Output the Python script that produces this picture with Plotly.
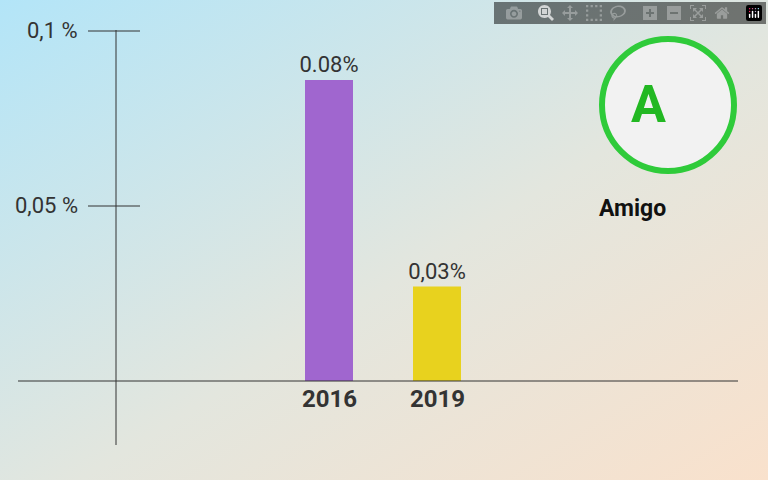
import plotly.graph_objects as go

years = ["2016", "2019"]
shares = [0.086, 0.027]
share_labels = ["0.08%", "0,03%"]
bar_colors = ["#A066CF", "#E8D21E"]
y_ticks = [0.05, 0.1]
y_tick_labels = ["0,05 %", "0,1 %"]

W, H = 768, 480
px_unit = 108.0
x0_px = 329.0
xr = [-x0_px / px_unit, (W - x0_px) / px_unit]
per_px = 0.05 / 175.0
yr = [-(H - 381) * per_px, 381 * per_px]

def px(p):
    return p / W

def pyp(p):
    return 1 - p / H

bg = ("data:image/svg+xml;utf8,<svg xmlns='http://www.w3.org/2000/svg' width='768' height='480'>"
      "<defs><linearGradient id='g' x1='0' y1='0' x2='1' y2='1'>"
      "<stop offset='0' stop-color='%23B3E5F8'/><stop offset='0.55' stop-color='%23E3E6DE'/>"
      "<stop offset='1' stop-color='%23F9E1CC'/></linearGradient></defs>"
      "<rect width='768' height='480' fill='url(%23g)'/></svg>")

fig = go.Figure(go.Bar(
    x=list(range(len(years))), y=shares, width=48 / px_unit,
    marker=dict(color=bar_colors, line_width=0),
    text=share_labels, textposition="outside", cliponaxis=False, constraintext="none",
    textfont=dict(family="Roboto", size=22, color="#333333"),
))

shapes = [
    dict(type="line", xref="paper", yref="paper", x0=px(116), x1=px(116), y0=pyp(30), y1=pyp(445),
         line=dict(color="#333", width=1)),
    dict(type="line", xref="paper", yref="y", x0=px(18), x1=px(738), y0=0, y1=0,
         line=dict(color="#333", width=1)),
    dict(type="circle", xref="paper", yref="paper", x0=px(602), x1=px(734), y0=pyp(39), y1=pyp(171),
         fillcolor="#F2F2F2", line=dict(color="#2FCB3A", width=6)),
]
annotations = [
    dict(text="<b>A</b>", xref="paper", yref="paper", x=px(668), y=pyp(104), showarrow=False,
         yanchor="middle", font=dict(family="Roboto", size=52, color="#22B822")),
    dict(text="<b>Amigo</b>", xref="paper", yref="paper", x=px(668), y=pyp(208), showarrow=False,
         font=dict(family="Roboto", size=23, color="#111")),
]
for v, lab in zip(y_ticks, y_tick_labels):
    shapes.append(dict(type="line", xref="paper", yref="y", x0=px(88), x1=px(140), y0=v, y1=v,
                       line=dict(color="#333", width=1)))
    annotations.append(dict(text=lab, xref="paper", yref="y", x=px(80), y=v, yshift=-14,
                            xanchor="right", yanchor="bottom", showarrow=False,
                            font=dict(family="Roboto", size=22, color="#333")))
for i, yr_lab in enumerate(years):
    annotations.append(dict(text="<b>" + yr_lab + "</b>", x=i, xref="x", yref="paper", y=pyp(415),
                            showarrow=False, font=dict(family="Roboto", size=24, color="#333")))

fig.update_layout(
    width=W, height=H, margin=dict(l=0, r=0, t=0, b=0),
    paper_bgcolor="rgba(0,0,0,0)", plot_bgcolor="rgba(0,0,0,0)",
    xaxis=dict(range=xr, visible=False), yaxis=dict(range=yr, visible=False),
    showlegend=False, shapes=shapes, annotations=annotations,
    images=[dict(source=bg, xref="paper", yref="paper", x=0, y=1, sizex=1, sizey=1,
                 sizing="stretch", layer="below", xanchor="left", yanchor="top")],
)

fig.write_html("out.html", post_script="document.body.style.margin='0';")
